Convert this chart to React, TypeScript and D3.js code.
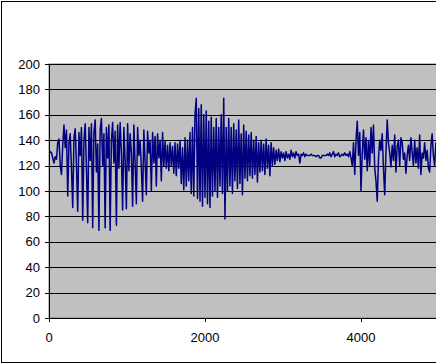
import React from "react";
import * as d3 from "d3";

// sample spacing (in sample-index units) of the values below
const sampleStep = 16;

// waveform values, in order
const samples: number[] = [
  // quiet start
  130, 131, 130, 126, 122, 127, 125, 138, 141, 120, 113,
  // voiced group 1
  136, 152, 134, 148, 96, 138, 145, 118, 87, 142,
  149, 120, 84, 146, 128, 150, 77, 140, 153, 118,
  75, 150, 124, 153, 71, 146, 156, 115, 137, 69,
  148, 157, 120, 145, 71, 150, 126, 152, 69, 140,
  154, 122, 147, 73, 152, 118, 154, 130, 85, 150,
  125, 86, 153, 116, 145, 130, 88, 152, 122, 90,
  150, 128, 140, 118, 92, 148, 124, 97, 147, 130,
  140, 100, 146, 122, 143, 104, 145, 126, 140, 108,
  146, 120, 139,
  // transition
  118, 136, 116, 138, 120, 135, 114, 138, 112, 137,
  118, 140, 106, 134, 101, 142, 104, 140, 108, 146,
  // dense burst
  98, 150, 96, 160, 173, 94, 165, 92, 168, 88,
  160, 95, 163, 90, 155, 87, 158, 96, 150, 100,
  157, 95, 150, 104, 160, 98, 173, 78, 150, 100,
  157, 104, 150, 98, 153, 108, 148, 102, 156, 106,
  145, 97, 152, 110, 147, 108, 144, 112, 146, 110,
  140, 113, 143, 107, 138, 115,
  // decay
  140, 116, 137, 113, 141, 118, 136, 112, 138, 120,
  134, 121, 132, 124, 133, 123, 131, 126, 130, 124,
  131, 126, 129, 125,
  // quiet middle
  132, 127, 130, 126, 131, 128, 129, 122, 129, 128,
  130, 127, 129, 128, 128, 128, 129, 128, 128, 128,
  127, 128, 128, 126, 126, 128, 128, 128, 128, 129,
  128, 130, 127, 129, 131, 127, 129, 128, 130, 127,
  128, 129, 128, 130, 128, 129, 127, 131,
  // voiced group 2
  126, 120, 138, 113, 140, 155, 128, 146, 100, 130,
  148, 125, 142, 116, 140, 120, 150, 130, 152, 118,
  108, 92, 125, 140, 132, 145, 118, 97, 130, 156,
  138, 130, 119, 136, 124, 144, 115, 135, 140, 120,
  142, 138, 125, 130, 114, 128, 136, 124, 142, 130,
  120, 140, 122, 134, 118, 144, 113, 130, 126, 138,
  124, 132, 118, 115, 135, 145, 128, 120, 138, 130,
  142,
];

const yTicks = [0, 20, 40, 60, 80, 100, 120, 140, 160, 180, 200];
const xTicks = [0, 2000, 4000];

export default function App() {
  const W = 436;
  const H = 364;
  const left = 49;
  const top = 64;
  const bottom = 318;
  const x = d3.scaleLinear().domain([0, 6000]).range([left, left + 468]);
  const y = d3.scaleLinear().domain([0, 200]).range([bottom, top]);
  const line = d3
    .line<number>()
    .x((_, i) => x(i * sampleStep))
    .y((d) => y(d));
  const font = "'Liberation Sans', Arial, sans-serif";
  return (
    <svg
      width={W}
      height={H}
      style={{ position: "absolute", left: 0, top: 0, background: "#fff" }}
    >
      <defs>
        <clipPath id="plotClip">
          <rect x={left} y={top} width={x(6000) - left} height={bottom - top} />
        </clipPath>
      </defs>
      <rect x={1.5} y={1.5} width={W + 20} height={361} fill="#fff" stroke="#000" strokeWidth={1} />
      <rect x={left} y={top} width={x(6000) - left} height={bottom - top} fill="#C0C0C0" stroke="#808080" strokeWidth={1} />
      {yTicks.slice(1).map((t) => (
        <line key={"g" + t} x1={left} x2={x(6000)} y1={Math.round(y(t)) + 0.5} y2={Math.round(y(t)) + 0.5} stroke="#000" strokeWidth={1} />
      ))}
      <path d={line(samples) || ""} fill="none" stroke="#000080" strokeWidth={1.5} strokeLinejoin="round" clipPath="url(#plotClip)" />
      <line x1={left + 0.5} x2={left + 0.5} y1={top} y2={bottom + 0.5} stroke="#000" />
      <line x1={left} x2={x(6000)} y1={bottom + 0.5} y2={bottom + 0.5} stroke="#000" />
      {yTicks.map((t) => (
        <g key={"y" + t}>
          <line x1={left - 4} x2={left} y1={Math.round(y(t)) + 0.5} y2={Math.round(y(t)) + 0.5} stroke="#000" />
          <text x={40} y={y(t)} dy="0.35em" textAnchor="end" fontFamily={font} fontSize={13} fill="#000">
            {t}
          </text>
        </g>
      ))}
      {xTicks.map((t) => (
        <g key={"x" + t}>
          <line x1={Math.round(x(t)) + 0.5} x2={Math.round(x(t)) + 0.5} y1={bottom} y2={bottom + 4} stroke="#000" />
          <text x={x(t)} y={342} textAnchor="middle" fontFamily={font} fontSize={13} fill="#000">
            {t}
          </text>
        </g>
      ))}
    </svg>
  );
}
